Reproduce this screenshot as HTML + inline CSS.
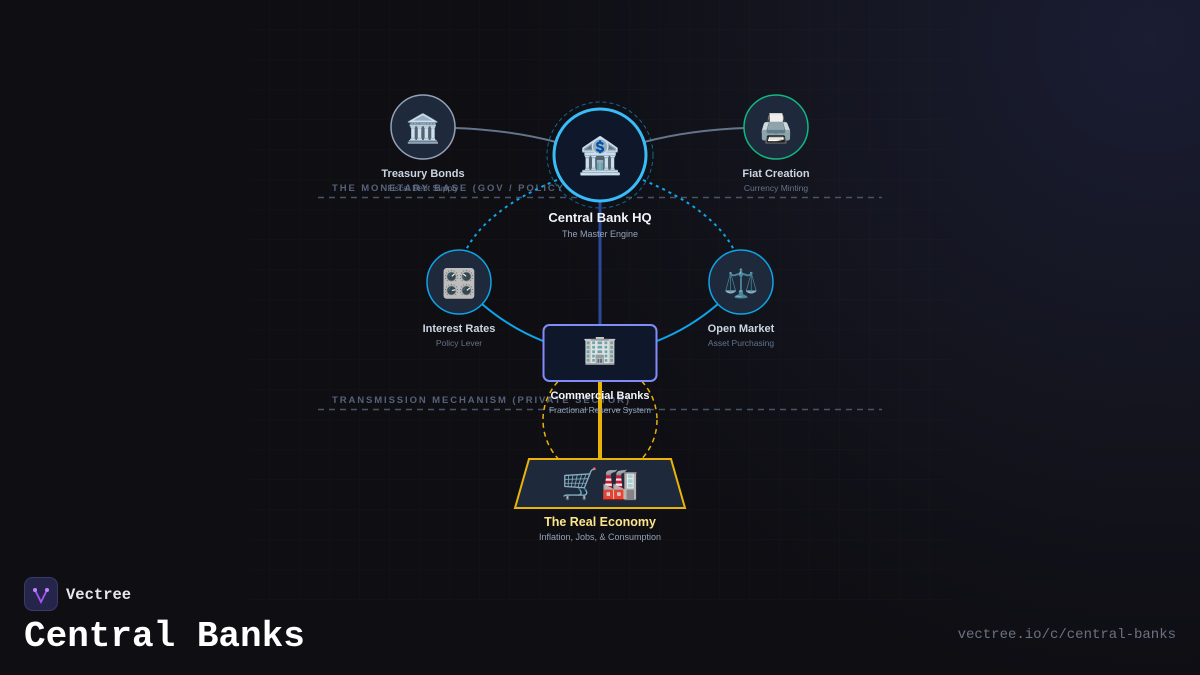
<!DOCTYPE html>
<html><head><meta charset="utf-8"><style>
html,body{margin:0;padding:0;width:1200px;height:675px;overflow:hidden;background:#0e0e13}
svg{display:block}
</style></head><body>
<svg width="1200" height="675" viewBox="0 0 1200 675" xmlns="http://www.w3.org/2000/svg" font-family="Liberation Sans, sans-serif">
<defs>
<radialGradient id="bg" cx="1150" cy="40" r="650" gradientUnits="userSpaceOnUse">
<stop offset="0" stop-color="#1a1d33"/><stop offset="0.6" stop-color="#13141d"/><stop offset="1" stop-color="#0e0e13"/>
</radialGradient>
<pattern id="grid" width="30" height="30" patternUnits="userSpaceOnUse"><path d="M30 0V30H0" fill="none" stroke="#ffffff" stroke-opacity="0.025"/></pattern>
</defs>
<rect width="1200" height="675" fill="url(#bg)"/>
<rect x="250" y="0" width="700" height="600" fill="url(#grid)"/>

<line x1="318" y1="197.5" x2="882" y2="197.5" stroke="#475569" stroke-width="1.5" stroke-dasharray="6,5"/>
<line x1="318" y1="409.5" x2="882" y2="409.5" stroke="#475569" stroke-width="1.5" stroke-dasharray="6,5"/>
<text x="332" y="191" font-size="9.5" fill="#56627a" letter-spacing="1.9" font-weight="bold">THE MONETARY BASE (GOV / POLICY LAYER)</text>
<text x="332" y="403" font-size="9.5" fill="#56627a" letter-spacing="1.9" font-weight="bold">TRANSMISSION MECHANISM (PRIVATE SECTOR)</text>

<path d="M455 128 Q510 130 556 142" fill="none" stroke="#64748b" stroke-width="2"/>
<path d="M745 128 Q690 130 644 142" fill="none" stroke="#64748b" stroke-width="2"/>
<path d="M557 180 Q485 210 465 252" fill="none" stroke="#0ea5e9" stroke-width="2" stroke-dasharray="3,4"/>
<path d="M643 180 Q715 210 735 252" fill="none" stroke="#0ea5e9" stroke-width="2" stroke-dasharray="3,4"/>
<path d="M482 304 Q510 328 543 341" fill="none" stroke="#0ea5e9" stroke-width="2"/>
<path d="M718 304 Q690 328 657 341" fill="none" stroke="#0ea5e9" stroke-width="2"/>
<line x1="600" y1="200" x2="600" y2="325" stroke="#2b4b9a" stroke-width="3"/>
<circle cx="600" cy="420" r="57" fill="none" stroke="#eab308" stroke-width="1.5" stroke-dasharray="5,4"/>
<line x1="600" y1="381" x2="600" y2="460" stroke="#eab308" stroke-width="4"/>

<circle cx="423" cy="127" r="32" fill="#1e293b" stroke="#94a3b8" stroke-width="1.5"/>
<text x="423" y="138" font-size="28" text-anchor="middle" font-family="Noto Color Emoji, DejaVu Sans, sans-serif">🏛️</text>
<text x="423" y="177" font-size="11" font-weight="bold" fill="#cbd5e1" text-anchor="middle">Treasury Bonds</text>
<text x="423" y="191" font-size="8.5" fill="#64748b" text-anchor="middle">Fiscal Debt Supply</text>

<circle cx="776" cy="127" r="32" fill="#1e293b" stroke="#10b981" stroke-width="1.5"/>
<text x="776" y="138" font-size="28" text-anchor="middle" font-family="Noto Color Emoji, DejaVu Sans, sans-serif">🖨️</text>
<text x="776" y="177" font-size="11" font-weight="bold" fill="#cbd5e1" text-anchor="middle">Fiat Creation</text>
<text x="776" y="191" font-size="8.5" fill="#64748b" text-anchor="middle">Currency Minting</text>

<circle cx="600" cy="155" r="53" fill="none" stroke="#0ea5e9" stroke-opacity="0.6" stroke-width="1" stroke-dasharray="4,3"/>
<circle cx="600" cy="155" r="46" fill="#0f172a" stroke="#38bdf8" stroke-width="3"/>
<text x="600" y="168" font-size="36" text-anchor="middle" font-family="Noto Color Emoji, DejaVu Sans, sans-serif">🏦</text>
<text x="600" y="222" font-size="13" font-weight="bold" fill="#f1f5f9" text-anchor="middle">Central Bank HQ</text>
<text x="600" y="237" font-size="9" fill="#94a3b8" text-anchor="middle">The Master Engine</text>

<circle cx="459" cy="282" r="32" fill="#1e293b" stroke="#0ea5e9" stroke-width="1.5"/>
<text x="459" y="293" font-size="28" text-anchor="middle" font-family="Noto Color Emoji, DejaVu Sans, sans-serif">🎛️</text>
<text x="459" y="332" font-size="11" font-weight="bold" fill="#cbd5e1" text-anchor="middle">Interest Rates</text>
<text x="459" y="346" font-size="8.5" fill="#64748b" text-anchor="middle">Policy Lever</text>

<circle cx="741" cy="282" r="32" fill="#1e293b" stroke="#0ea5e9" stroke-width="1.5"/>
<text x="741" y="293" font-size="28" text-anchor="middle" font-family="Noto Color Emoji, DejaVu Sans, sans-serif">⚖️</text>
<text x="741" y="332" font-size="11" font-weight="bold" fill="#cbd5e1" text-anchor="middle">Open Market</text>
<text x="741" y="346" font-size="8.5" fill="#64748b" text-anchor="middle">Asset Purchasing</text>

<rect x="543.5" y="325" width="113" height="56" rx="6" fill="#0f172a" stroke="#818cf8" stroke-width="2"/>
<text x="600" y="359" font-size="28" text-anchor="middle" font-family="Noto Color Emoji, DejaVu Sans, sans-serif">🏢</text>
<text x="600" y="399" font-size="11" font-weight="bold" fill="#f1f5f9" text-anchor="middle">Commercial Banks</text>
<text x="600" y="413" font-size="8.5" fill="#94a3b8" text-anchor="middle">Fractional Reserve System</text>

<polygon points="529,459 671,459 685,508 515,508" fill="#1e293b" stroke="#eab308" stroke-width="2"/>
<text x="580" y="494" font-size="30" text-anchor="middle" font-family="Noto Color Emoji, DejaVu Sans, sans-serif">🛒</text>
<text x="620" y="494" font-size="30" text-anchor="middle" font-family="Noto Color Emoji, DejaVu Sans, sans-serif">🏭</text>
<text x="600" y="526" font-size="12.5" font-weight="bold" fill="#fde68a" text-anchor="middle">The Real Economy</text>
<text x="600" y="540" font-size="9" fill="#94a3b8" text-anchor="middle">Inflation, Jobs, &amp; Consumption</text>

<rect x="24.5" y="577.5" width="33" height="33" rx="8" fill="#25244a" stroke="#3b3a6a"/>
<path d="M35 590 L41 602 L47 590" fill="none" stroke="#a855f7" stroke-width="1.8"/>
<circle cx="35" cy="590" r="2" fill="#c084fc"/><circle cx="47" cy="590" r="2" fill="#c084fc"/>
<text x="66" y="599" font-size="15.5" font-weight="bold" fill="#e5e7eb" font-family="Liberation Mono, monospace">Vectree</text>
<text x="24" y="646" font-size="36" font-weight="bold" fill="#ffffff" font-family="Liberation Mono, monospace">Central Banks</text>
<text x="1176" y="638" font-size="14" fill="#6b7280" text-anchor="end" font-family="Liberation Mono, monospace">vectree.io/c/central-banks</text>
</svg>
</body></html>
